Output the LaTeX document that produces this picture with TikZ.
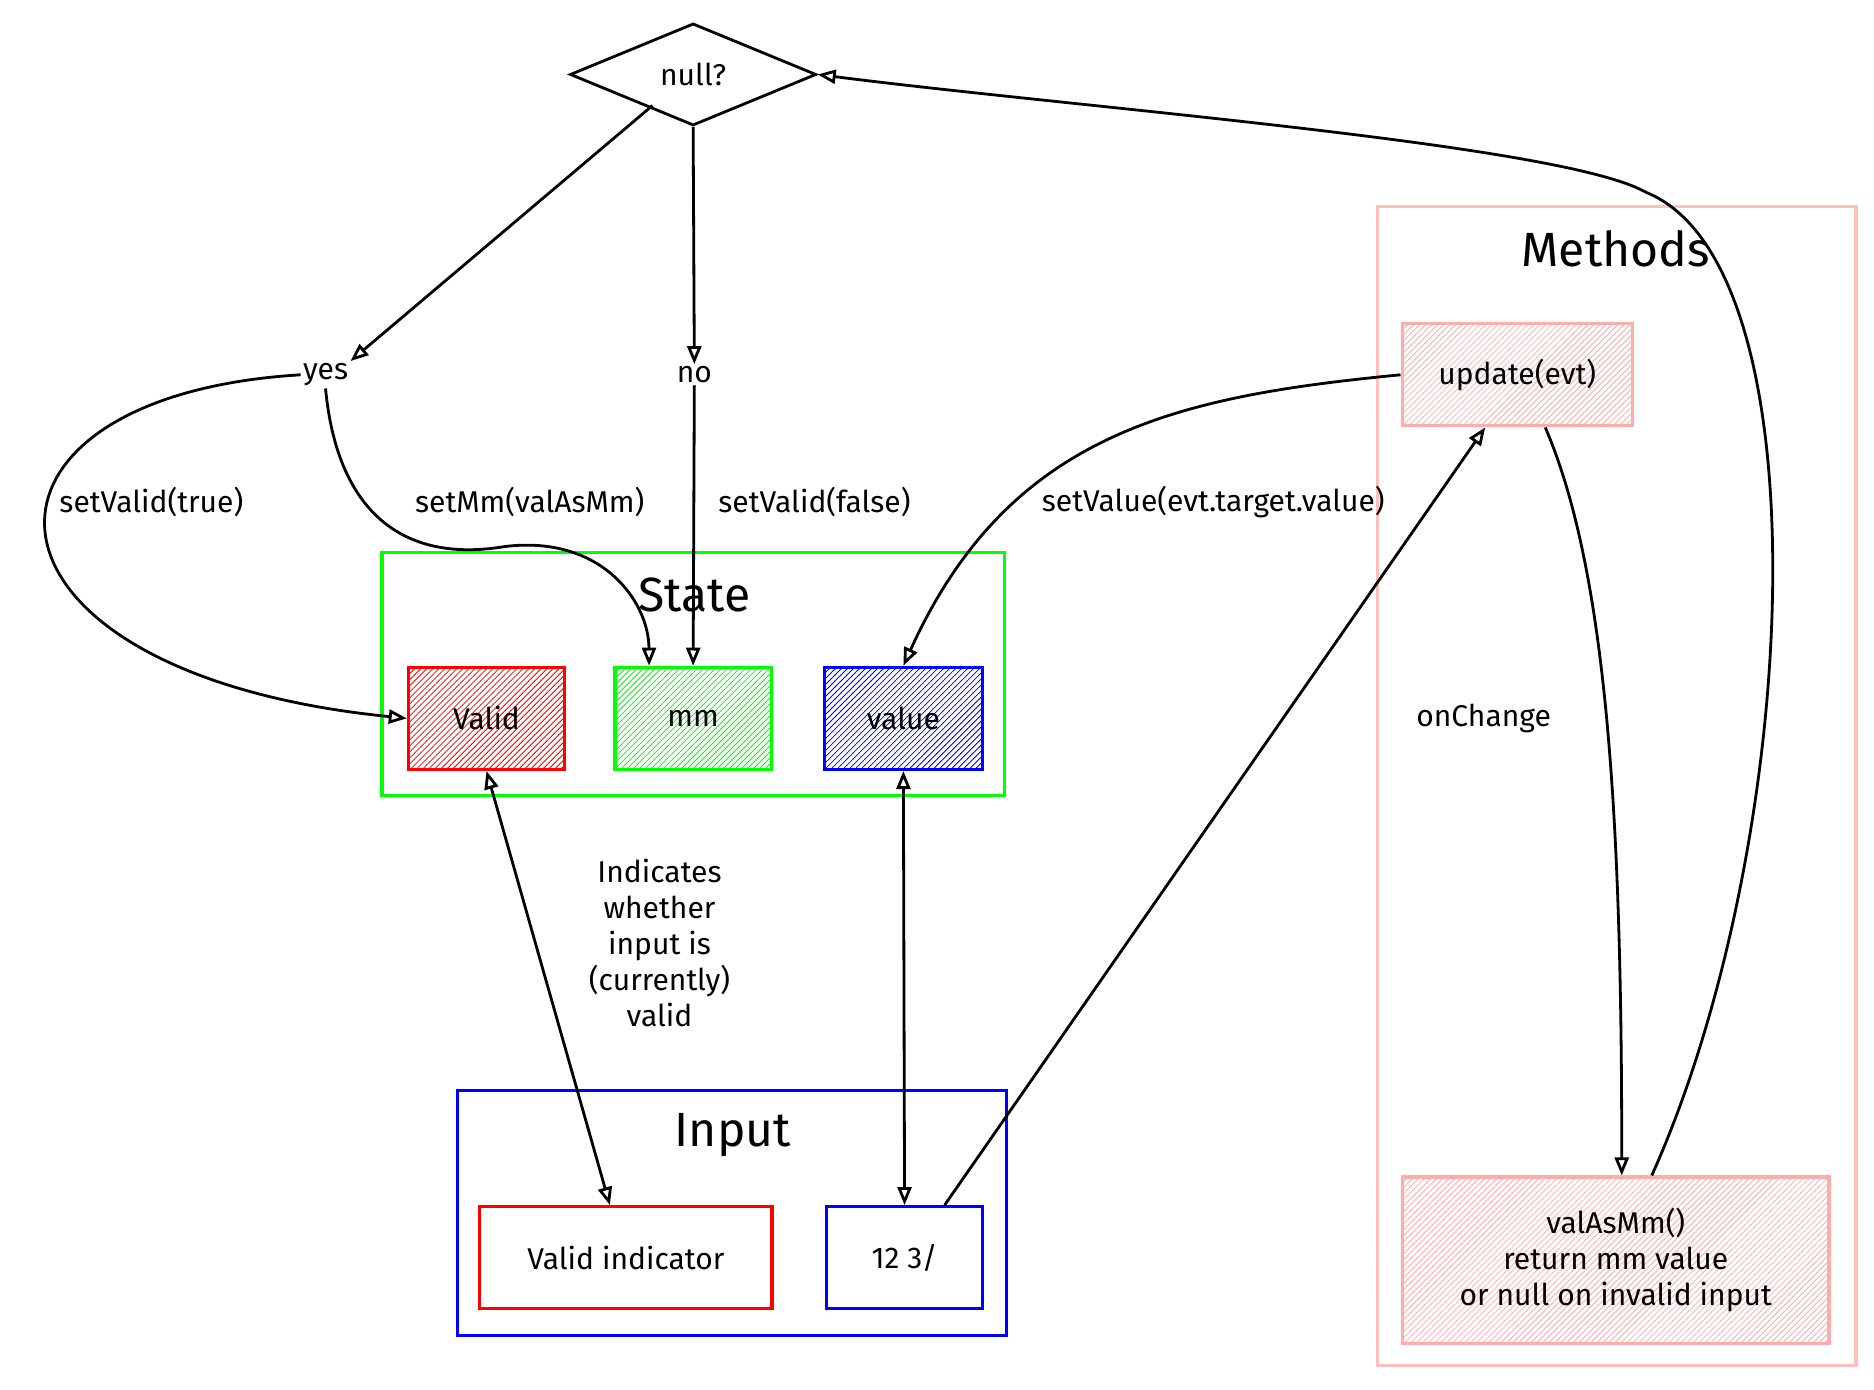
\documentclass[tikz,border=0pt]{standalone}
\usepackage{fontspec}
\setmainfont{Fira Sans}
\usetikzlibrary{arrows.meta,patterns,shapes.geometric}
\begin{document}
\begin{tikzpicture}[x=0.6pt,y=-0.6pt,
  lbl/.style={font=\fontsize{15}{18}\selectfont,inner sep=1pt},
  ttl/.style={font=\fontsize{24}{28}\selectfont},
  arr/.style={-{Triangle[open,length=9pt,width=7pt]},line width=1.4pt},
  darr/.style={{Triangle[open,length=9pt,width=7pt]}-{Triangle[open,length=9pt,width=7pt]},line width=1.4pt},
  hbox/.style={draw=#1,line width=1.6pt,pattern=north east lines,pattern color=#1,minimum height=51pt,inner sep=0pt,font=\fontsize{15}{18}\selectfont},
  obox/.style={draw=#1,line width=1.6pt,minimum height=51pt,inner sep=0pt,font=\fontsize{15}{18}\selectfont},
  frame/.style={draw=#1,line width=1.6pt}]
\useasboundingbox (0,0) rectangle (1560,1157);
% frames
\draw[frame=pink] (1147,172) rectangle (1545,1137);
\node[ttl] (mtitle) at (1345,207) {Methods};
\draw[frame=green] (318,460) rectangle (836,662);
\node[ttl] (stitle) at (578,495) {State};
\draw[frame=blue] (381,908) rectangle (838,1112);
\node[ttl] (ititle) at (610,945) {Input};
% nodes
\node[draw,diamond,aspect=2.4,line width=1.4pt,minimum width=123pt,minimum height=51pt,inner sep=0pt,font=\fontsize{15}{18}\selectfont] (null) at (577,62) {null?};
\node[lbl] (yes) at (271,312) {yes};
\node[lbl] (no) at (578,312) {no};
\node[hbox=pink!90!red,minimum width=115pt] (upd) at (1263,312) {update(evt)};
\node[hbox=pink!90!red,minimum width=213pt,minimum height=83pt,align=center] (val) at (1345,1049) {valAsMm()\\return mm value\\or null on invalid input};
\node[lbl] (onc) at (1235,598) {onChange};
\node[hbox=red,minimum width=78pt] (valid) at (405,598) {Valid};
\node[hbox=green,minimum width=78pt] (mm) at (577,598) {mm};
\node[hbox=blue,minimum width=79pt] (value) at (752,598) {value};
\node[obox=red,minimum width=146pt] (vind) at (521,1047) {Valid indicator};
\node[obox=blue,minimum width=78pt] (inp) at (753,1047) {12 3/};
\node[lbl,align=center] (ind) at (549,785) {Indicates\\whether\\input is\\(currently)\\valid};
% edge labels
\node[lbl] (l1) at (126,418) {setValid(true)};
\node[lbl] (l2) at (441,418) {setMm(valAsMm)};
\node[lbl] (l3) at (678,418) {setValid(false)};
\node[lbl] (l4) at (1010,418) {setValue(evt.target.value)};
% connectors
\draw[arr] (null.south west) ++(18,4) coordinate (nsw) -- (yes.north east);
\draw[arr] (null.south) -- (no.north);
\draw[arr] (yes.west) .. controls (-50,330) and (-40,560) .. (valid.west);
\draw[arr] (yes.south) .. controls (280,420) and (330,470) .. (420,455) .. controls (500,445) and (540,500) .. ([xshift=-22pt]mm.north);
\draw[arr] (no.south) -- (mm.north);
\draw[arr] (upd.west) .. controls (980,330) and (840,360) .. (value.north);
\draw[darr] (valid.south) -- ([xshift=-8pt]vind.north);
\draw[darr] (value.south) -- (inp.north);
\draw[arr] ([xshift=20pt]inp.north) -- ([xshift=-16pt]upd.south);
\draw[arr] ([xshift=14pt]upd.south) .. controls (1340,480) and (1350,700) .. ([xshift=3pt]val.north);
\draw[arr] ([xshift=18pt]val.north) .. controls (1500,700) and (1520,220) .. (1370,160) .. controls (1300,120) and (900,90) .. (null.east);
\end{tikzpicture}
\end{document}
